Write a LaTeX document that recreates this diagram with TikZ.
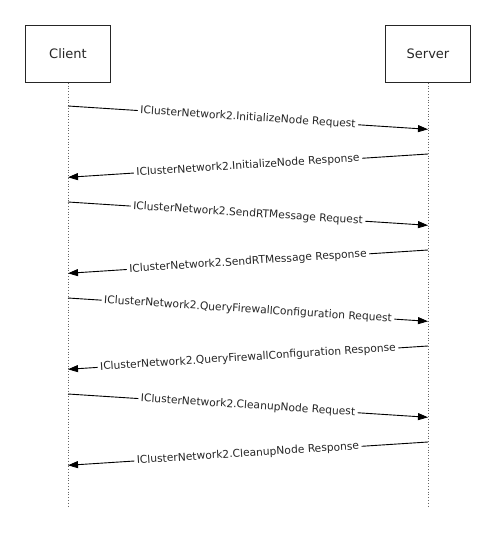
\documentclass[tikz,border=0pt]{standalone}
\usepackage{fontspec}
\setmainfont{DejaVu Sans}
\usetikzlibrary{arrows.meta}
\begin{document}
\begin{tikzpicture}[x=1pt,y=-1pt,
  actor/.style={draw=black!85,line width=0.9pt,minimum width=85pt,minimum height=56.5pt,inner sep=0pt,font=\fontsize{13}{15}\selectfont,text=black!85},
  lifeline/.style={draw=black!60,line width=0.8pt,dotted},
  msg/.style={draw=black,line width=0.9pt,-{Triangle[length=10pt,width=7pt]}},
  lbl/.style={midway,sloped,fill=white,inner sep=2.5pt,font=\fontsize{10.7}{12}\selectfont,text=black!85}]
\useasboundingbox (0,0) rectangle (497,533);
\node[actor] (client) at (68,54) {Client};
\node[actor] (server) at (428,54) {Server};
\coordinate (cend) at (68,507);
\coordinate (send) at (428,507);
\draw[lifeline] (client.south) -- (cend);
\draw[lifeline] (server.south) -- (send);
\foreach \i/\n in {0/InitializeNode,1/SendRTMessage,2/QueryFirewallConfiguration,3/CleanupNode}{
  \pgfmathsetmacro{\ya}{106+96*\i}
  \pgfmathsetmacro{\yb}{129.3+96*\i}
  \pgfmathsetmacro{\yc}{154+96*\i}
  \pgfmathsetmacro{\yd}{177.3+96*\i}
  \coordinate (rqa\i) at (68,\ya);
  \coordinate (rqb\i) at (428,\yb);
  \coordinate (rsa\i) at (428,\yc);
  \coordinate (rsb\i) at (68,\yd);
  \draw[msg] (rqa\i) -- node[lbl] {IClusterNetwork2.\n\ Request} (rqb\i);
  \draw[msg] (rsa\i) -- node[lbl] {IClusterNetwork2.\n\ Response} (rsb\i);
}
\end{tikzpicture}
\end{document}
